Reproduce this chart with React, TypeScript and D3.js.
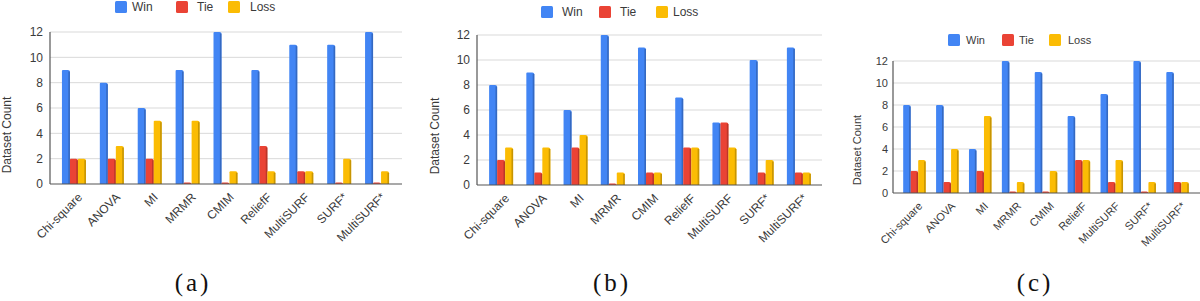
import React from "react";
import * as d3 from "d3";

const categories = ["Chi-square", "ANOVA", "MI", "MRMR", "CMIM", "ReliefF", "MultiSURF", "SURF*", "MultiSURF*"];
const seriesNames = ["Win", "Tie", "Loss"];
const seriesColors = ["#4285F4", "#EA4335", "#FBBC04"];
const yTicks = [0, 2, 4, 6, 8, 10, 12];
const captions = ["(a)", "(b)", "(c)"];
const yAxisTitle = "Dataset Count";

const winA = [9, 8, 6, 9, 12, 9, 11, 11, 12];
const tieA = [2, 2, 2, 0, 0, 3, 1, 0, 0];
const lossA = [2, 3, 5, 5, 1, 1, 1, 2, 1];

const winB = [8, 9, 6, 12, 11, 7, 5, 10, 11];
const tieB = [2, 1, 3, 0, 1, 3, 5, 1, 1];
const lossB = [3, 3, 4, 1, 1, 3, 3, 2, 1];

const winC = [8, 8, 4, 12, 11, 7, 9, 12, 11];
const tieC = [2, 1, 2, 0, 0, 3, 1, 0, 1];
const lossC = [3, 4, 7, 1, 2, 3, 3, 1, 1];

const panelData = [
  [winA, tieA, lossA],
  [winB, tieB, lossB],
  [winC, tieC, lossC],
];

type Layout = {
  axisX: number; plotRight: number; bandStart: number; bandEnd: number; groupW: number;
  yTop: number; yBottom: number; tickRight: number; font: number;
  ylabelX: number; ylabelY: number;
  legBox: number[]; legText: number[]; legY: number;
  capX: number;
};

const layouts: Layout[] = [
  { axisX: 50, plotRight: 402, bandStart: 55, bandEnd: 396, groupW: 24, yTop: 32, yBottom: 184, tickRight: 43, font: 12,
    ylabelX: 11, ylabelY: 135, legBox: [115, 176, 228], legText: [132, 197, 250], legY: 7, capX: 191 },
  { axisX: 477, plotRight: 822, bandStart: 482.5, bandEnd: 817.5, groupW: 24, yTop: 35, yBottom: 185, tickRight: 470, font: 12,
    ylabelX: 439, ylabelY: 136, legBox: [541, 599, 656], legText: [562, 620, 673], legY: 12, capX: 610 },
  { axisX: 893, plotRight: 1200, bandStart: 898, bandEnd: 1194, groupW: 22.5, yTop: 61, yBottom: 193, tickRight: 888, font: 11,
    ylabelX: 861, ylabelY: 150, legBox: [948, 1002, 1049], legText: [966, 1019, 1068], legY: 40, capX: 1033 },
];

const FONT = "'Liberation Sans', Arial, sans-serif";

function Panel({ data, L, caption }: { data: number[][]; L: Layout; caption: string }) {
  const x0 = d3.scaleBand<string>().domain(categories).range([L.bandStart, L.bandEnd]).padding(0);
  const x1 = d3.scaleBand<string>().domain(seriesNames).range([0, L.groupW]).padding(0);
  const y = d3.scaleLinear().domain([0, 12]).range([L.yBottom, L.yTop]);
  return (
    <g>
      {yTicks.map((t) => (
        <g key={t}>
          {t !== 0 && (
            <line x1={L.axisX} x2={L.plotRight} y1={y(t)} y2={y(t)} stroke="#d9d9d9" strokeWidth={1} />
          )}
          <text x={L.tickRight} y={y(t)} dy="0.35em" textAnchor="end" fontSize={L.font} fill="#3a3a3a" fontFamily={FONT}>
            {t}
          </text>
        </g>
      ))}
      <text
        transform={`translate(${L.ylabelX},${L.ylabelY}) rotate(-90)`}
        textAnchor="middle"
        fontSize={L.font}
        fill="#3a3a3a"
        fontFamily={FONT}
      >
        {yAxisTitle}
      </text>
      {categories.map((c, i) => {
        const gx = (x0(c) as number) + (x0.bandwidth() - L.groupW) / 2;
        return (
          <g key={c}>
            {seriesNames.map((s, j) => {
              const v = data[j][i];
              const bx = gx + (x1(s) as number);
              const bw = x1.bandwidth();
              const top = Math.min(y(v), L.yBottom - 1.5);
              const h = L.yBottom - top;
              const col = seriesColors[j];
              const dark = d3.color(col)!.darker(0.9).formatHex();
              return (
                <g key={s}>
                  <path
                    d={`M${bx},${L.yBottom} V${top + 1} Q${bx},${top} ${bx + 1},${top} H${bx + bw - 2} Q${bx + bw},${top} ${bx + bw},${top + 2} V${L.yBottom} Z`}
                    fill={col}
                  />
                  {h > 3 && (
                    <rect x={bx + bw - 1.6} y={top + 1.5} width={1.6} height={h - 1.5} fill={dark} opacity={0.75} />
                  )}
                </g>
              );
            })}
            <text
              transform={`translate(${(x0(c) as number) + x0.bandwidth() / 2 + 6},${L.yBottom + 11}) rotate(-45)`}
              textAnchor="end"
              dy="0.35em"
              fontSize={L.font}
              fill="#3a3a3a"
              fontFamily={FONT}
            >
              {c}
            </text>
          </g>
        );
      })}
      <line x1={L.axisX} x2={L.axisX} y1={L.yTop} y2={L.yBottom} stroke="#555" strokeWidth={1.2} />
      <line x1={L.axisX} x2={L.plotRight} y1={L.yBottom} y2={L.yBottom} stroke="#555" strokeWidth={1.2} />
      {seriesNames.map((s, j) => (
        <g key={s}>
          <rect x={L.legBox[j]} y={L.legY - 6} width={12} height={12} rx={1.5} fill={seriesColors[j]} />
          <text x={L.legText[j]} y={L.legY} dy="0.35em" fontSize={L.font} fill="#3a3a3a" fontFamily={FONT}>
            {s}
          </text>
        </g>
      ))}
      <text
        x={L.capX + 2}
        y={291}
        textAnchor="middle"
        fontSize={25}
        fill="#111"
        fontFamily="'Liberation Serif', serif"
        letterSpacing={3}
      >
        {caption}
      </text>
    </g>
  );
}

export default function App() {
  return (
    <svg width={1200} height={301} style={{ position: "absolute", left: 0, top: 0, background: "#fff" }}>
      <rect width={1200} height={301} fill="#fff" />
      {layouts.map((L, k) => (
        <Panel key={k} data={panelData[k]} L={L} caption={captions[k]} />
      ))}
    </svg>
  );
}
